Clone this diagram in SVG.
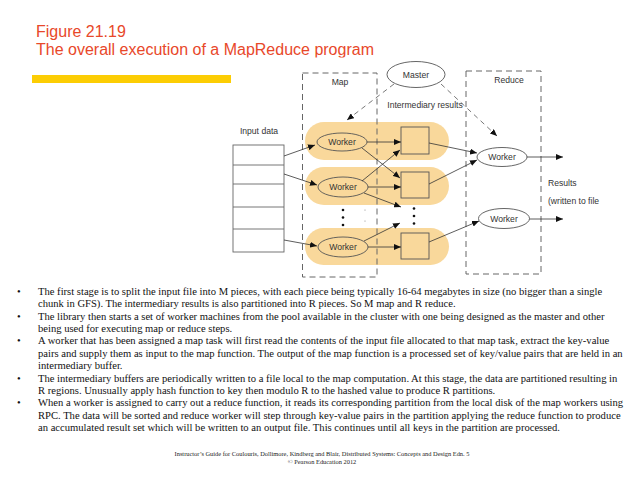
<svg xmlns="http://www.w3.org/2000/svg" width="638" height="478" viewBox="0 0 638 478">
<defs>
<marker id="ah" markerUnits="userSpaceOnUse" markerWidth="7" markerHeight="6" refX="7" refY="3" orient="auto"><path d="M0,0 L7,3 L0,6 z" fill="#111"/></marker>
<clipPath id="tclip"><rect x="0" y="0" width="638" height="57.5"/></clipPath>
<style>
.title{font-family:"Liberation Sans",Arial,sans-serif;font-size:16px;fill:#e8482a}
.lbl{font-family:"Liberation Sans",Arial,sans-serif;font-size:8.6px;fill:#333;text-anchor:middle}
.lbll{font-family:"Liberation Sans",Arial,sans-serif;font-size:8.6px;fill:#333}
.band{fill:#f9d89b}
.box{fill:none;stroke:#666;stroke-width:1;stroke-dasharray:6,4}
.sq{fill:#f9d89b;stroke:#555;stroke-width:0.9}
.mw{fill:#f9d89b;stroke:#555;stroke-width:0.9}
.rw{fill:#fff;stroke:#555;stroke-width:0.9}
.ln{stroke:#333;stroke-width:0.8;fill:none;marker-end:url(#ah)}
.dl{stroke:#555;stroke-width:0.8;fill:none;stroke-dasharray:5,4;marker-end:url(#ah)}
.body{font-family:"Liberation Serif","Times New Roman",serif;font-size:10.6px;fill:#111}
.foot{font-family:"Liberation Serif","Times New Roman",serif;font-size:6.4px;fill:#222;text-anchor:middle}
</style>
</defs>
<rect width="638" height="478" fill="#fff"/>
<g id="title" clip-path="url(#tclip)">
<text class="title" x="36" y="37">Figure 21.19</text>
<text class="title" x="36" y="55">The overall execution of a MapReduce program</text>
</g>
<rect x="32" y="75" width="199" height="8" fill="#fccd04"/>

<g id="bands">
<rect class="band" x="305" y="122" width="144" height="38" rx="19"/>
<rect class="band" x="305" y="167" width="144" height="38" rx="19"/>
<rect class="band" x="305" y="228" width="144" height="37" rx="18.5"/>
</g>
<g id="map-box"><rect class="box" x="302.5" y="73" width="74.5" height="204"/><text class="lbl" x="340" y="85">Map</text></g>
<g id="reduce-box"><rect class="box" x="466" y="71" width="75" height="203"/><text class="lbl" x="509" y="83">Reduce</text></g>
<g id="master"><ellipse class="rw" cx="416" cy="74.5" rx="29" ry="13"/><text class="lbl" x="416" y="77.5">Master</text></g>
<text id="intermediary-label" class="lbl" x="425" y="108">Intermediary results</text>
<g id="input-data">
<text class="lbl" x="259" y="134">Input data</text>
<rect x="233" y="145" width="51" height="107" fill="#fff" stroke="#666" stroke-width="0.9"/>
<path d="M233,165H284M233,184H284M233,207H284M233,229H284" stroke="#666" stroke-width="0.9"/>
</g>
<g id="map-worker-1"><ellipse class="mw" cx="342" cy="142" rx="25" ry="9"/><text class="lbl" x="342" y="145">Worker</text></g>
<g id="map-worker-2"><ellipse class="mw" cx="343" cy="187" rx="25" ry="10"/><text class="lbl" x="343" y="190">Worker</text></g>
<g id="map-worker-3"><ellipse class="mw" cx="343" cy="247" rx="25" ry="10"/><text class="lbl" x="343" y="250">Worker</text></g>
<g id="buffer-1"><rect class="sq" x="401" y="127" width="28" height="27"/></g>
<g id="buffer-2"><rect class="sq" x="401" y="172" width="28" height="26"/></g>
<g id="buffer-3"><rect class="sq" x="401" y="233" width="28" height="26"/></g>
<g id="reduce-worker-1"><ellipse class="rw" cx="502" cy="157" rx="25" ry="9.5"/><text class="lbl" x="502" y="160">Worker</text></g>
<g id="reduce-worker-2"><ellipse class="rw" cx="504" cy="218.5" rx="25.5" ry="10"/><text class="lbl" x="504" y="221.5">Worker</text></g>
<g id="dots" fill="#111">
<circle cx="343" cy="210" r="1.3"/><circle cx="343" cy="217.5" r="1.3"/><circle cx="343" cy="225" r="1.3"/>
<circle cx="365" cy="210" r="0.6" fill="#888"/><circle cx="365" cy="221" r="0.6" fill="#888"/>
<circle cx="414" cy="208.5" r="1.3"/><circle cx="414" cy="216" r="1.3"/><circle cx="414" cy="223.5" r="1.3"/>
</g>
<g id="results"><text class="lbll" x="548" y="186">Results</text><text class="lbll" x="548" y="204">(written to file</text></g>
<g id="connectors">
<line class="ln" x1="284" y1="156" x2="315" y2="145"/>
<line class="ln" x1="284" y1="174" x2="317" y2="185"/>
<line class="ln" x1="284" y1="240" x2="317" y2="246"/>
<line class="ln" x1="367" y1="142" x2="401" y2="142"/>
<line class="ln" x1="362" y1="148" x2="400" y2="178"/>
<line class="ln" x1="362" y1="181" x2="400" y2="150"/>
<line class="ln" x1="368" y1="187" x2="401" y2="187"/>
<line class="ln" x1="364" y1="193" x2="401" y2="207"/>
<line class="ln" x1="364" y1="241" x2="400" y2="223"/>
<line class="ln" x1="368" y1="247" x2="401" y2="247"/>
<line class="ln" x1="429" y1="143" x2="477" y2="153"/>
<line class="ln" x1="429" y1="184" x2="477" y2="160"/>
<line class="ln" x1="429" y1="242" x2="479" y2="221"/>
<line class="ln" x1="527" y1="157" x2="563" y2="157"/>
<line class="ln" x1="529.5" y1="219" x2="563" y2="219"/>
<line class="dl" x1="394" y1="84" x2="347" y2="120"/>
<line class="dl" x1="441" y1="84" x2="497" y2="136"/>
</g>
<g id="bullets">
<g class="body">
<text x="17" y="295">•</text><text x="38" y="295">The first stage is to split the input file into M pieces, with each piece being typically 16-64 megabytes in size (no bigger than a single</text>
<text x="38" y="307.4">chunk in GFS). The intermediary results is also partitioned into R pieces. So M map and R reduce.</text>
<text x="17" y="319.7">•</text><text x="38" y="319.7">The library then starts a set of worker machines from the pool available in the cluster with one being designed as the master and other</text>
<text x="38" y="332.1">being used for executing map or reduce steps.</text>
<text x="17" y="344.4">•</text><text x="38" y="344.4">A worker that has been assigned a map task will first read the contents of the input file allocated to that map task, extract the key-value</text>
<text x="38" y="356.8">pairs and supply them as input to the map function. The output of the map function is a processed set of key/value pairs that are held in an</text>
<text x="38" y="369.1">intermediary buffer.</text>
<text x="17" y="381.5">•</text><text x="38" y="381.5">The intermediary buffers are periodically written to a file local to the map computation. At this stage, the data are partitioned resulting in</text>
<text x="38" y="393.8">R regions. Unusually apply hash function to key then modulo R to the hashed value to produce R partitions.</text>
<text x="17" y="406.2">•</text><text x="38" y="406.2">When a worker is assigned to carry out a reduce function, it reads its corresponding partition from the local disk of the map workers using</text>
<text x="38" y="418.5">RPC. The data will be sorted and reduce worker will step through key-value pairs in the partition applying the reduce function to produce</text>
<text x="38" y="430.9">an accumulated result set which will be written to an output file. This continues until all keys in the partition are processed.</text>
</g>
</g>
<g id="footer">
<text class="foot" x="322" y="456">Instructor’s Guide for  Coulouris, Dollimore, Kindberg and Blair,  Distributed Systems: Concepts and Design  Edn. 5</text>
<text class="foot" x="322" y="463.5">© Pearson Education 2012</text>
</g>
</svg>
